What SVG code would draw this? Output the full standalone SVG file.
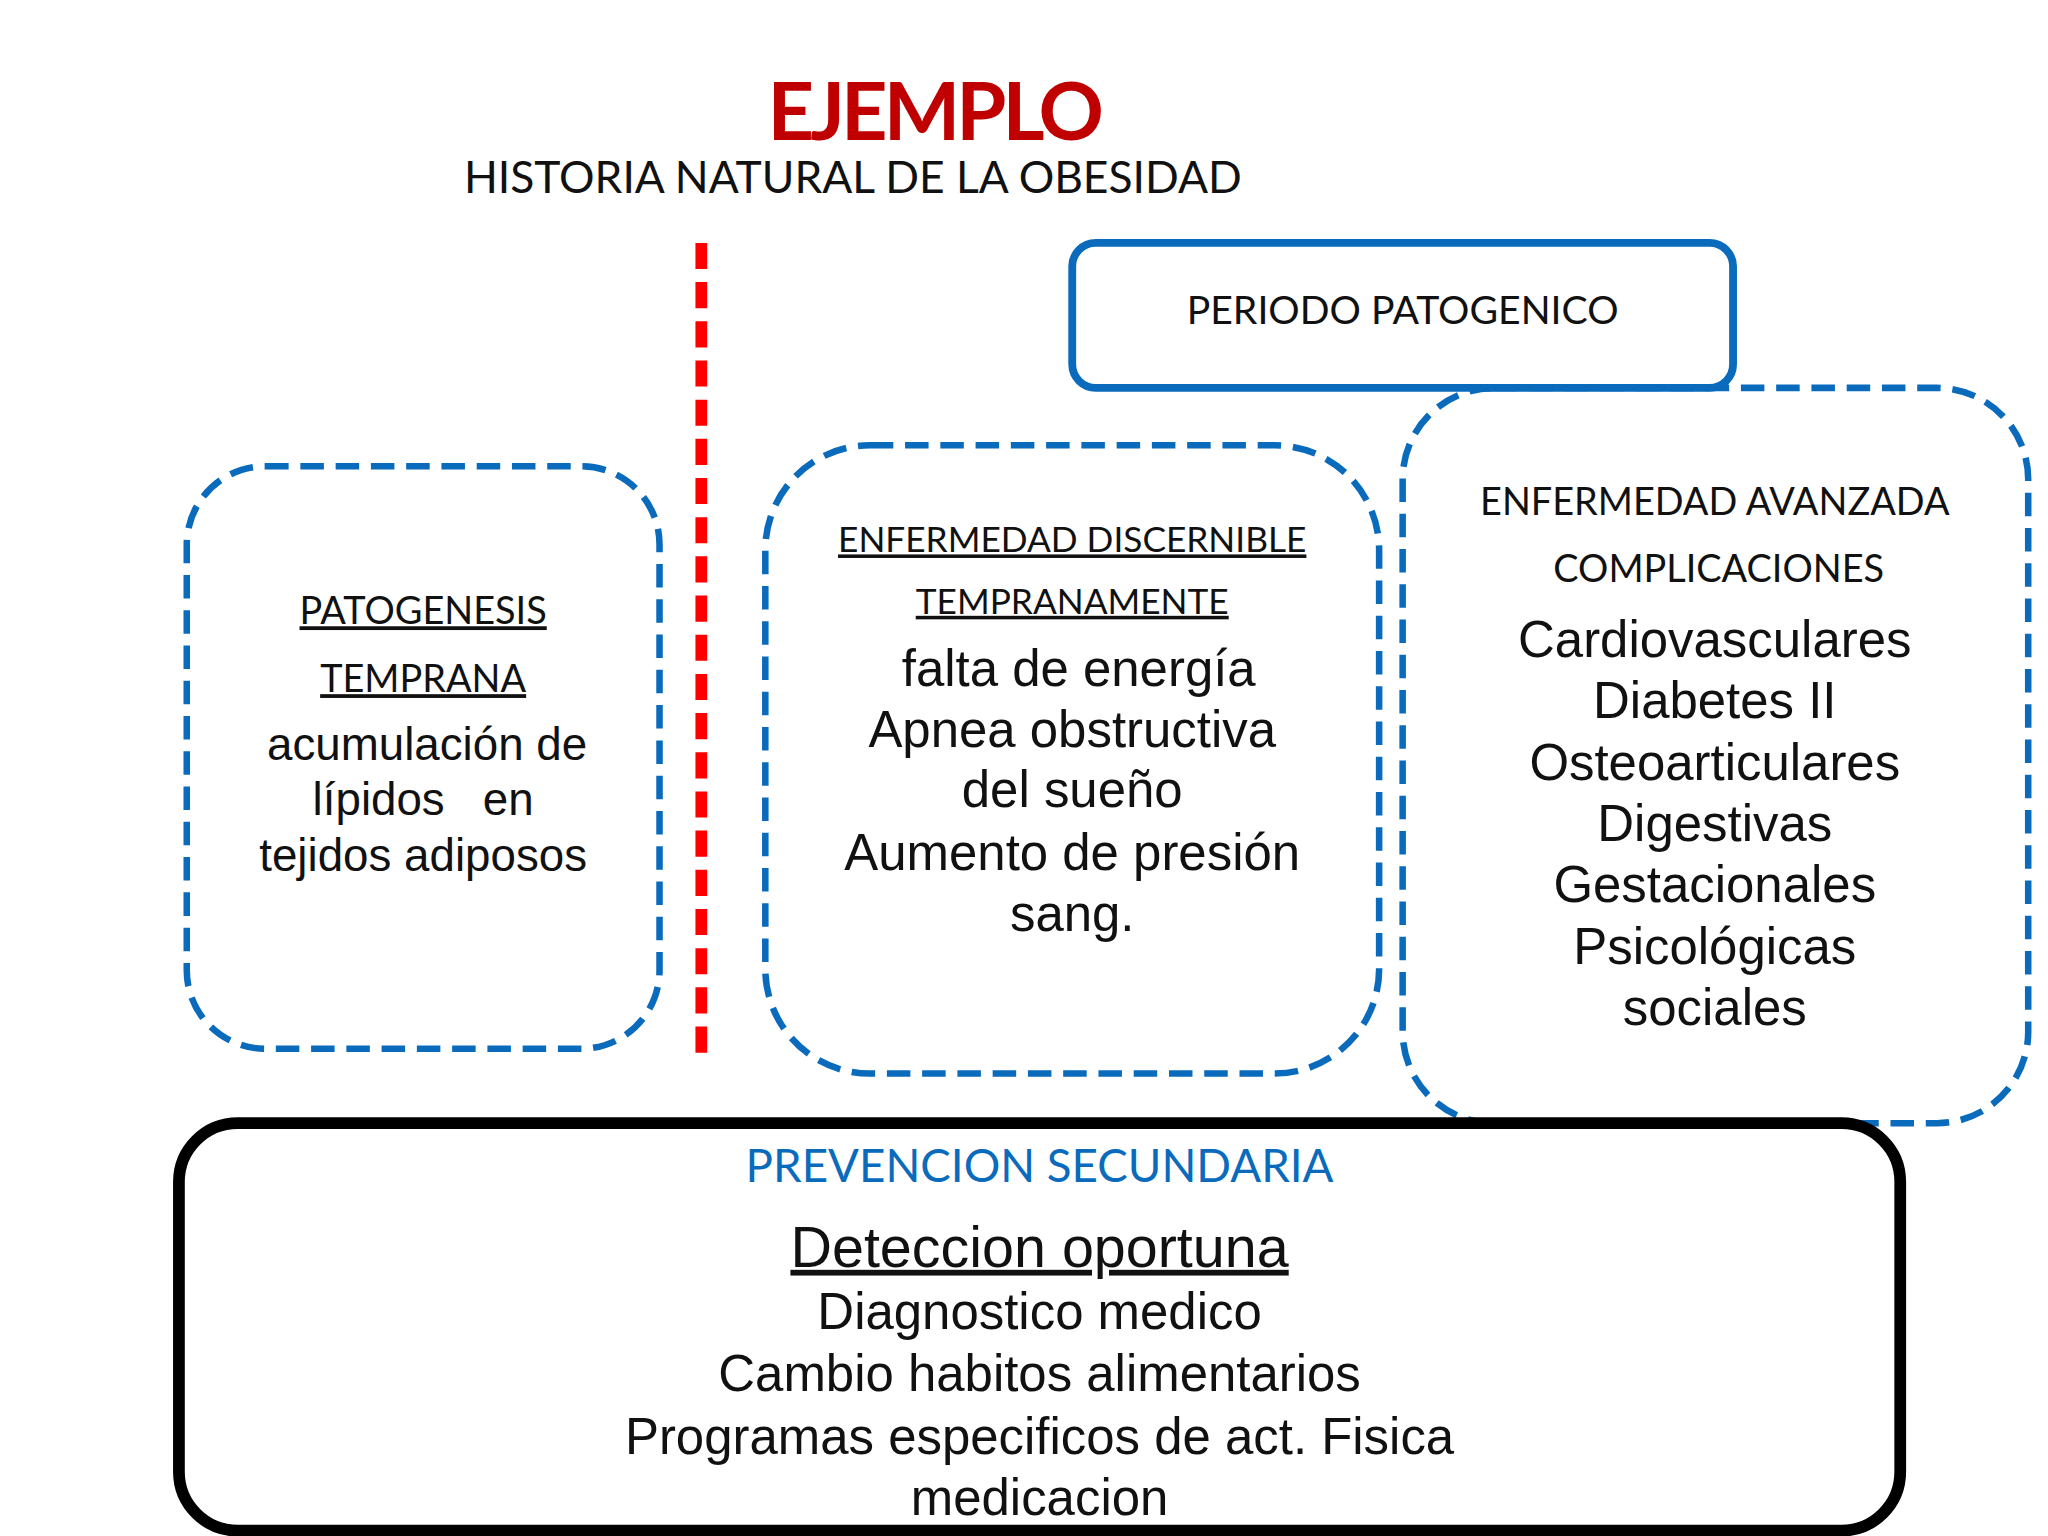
<svg xmlns="http://www.w3.org/2000/svg" width="2048" height="1536" viewBox="0 0 2048 1536">
<style>
.t{font-family:"Lato","Liberation Sans",sans-serif;fill:#111;text-anchor:middle}
.b{font-family:"Liberation Sans","DejaVu Sans",sans-serif;fill:#111;text-anchor:middle;font-size:39px}
.d{fill:none;stroke:#0a6bbd;stroke-width:5;stroke-dasharray:18 9}
</style>
<rect width="2048" height="1536" fill="#fff"/>
<g transform="scale(1.306)">
<g id="title">
<text x="715" y="107" class="t" style="font-size:62px;font-weight:bold;fill:#c00000;letter-spacing:-3px">EJEMPLO</text>
<text x="653" y="148" class="t" style="font-size:34px">HISTORIA NATURAL DE LA OBESIDAD</text>
</g>
<g id="divider"><line x1="537" y1="186" x2="537" y2="810" stroke="#f00" stroke-width="9" stroke-dasharray="20 10"/></g>
<g id="periodo">
<rect x="821" y="186" width="506" height="111" rx="18" fill="none" stroke="#0a6bbd" stroke-width="6"/>
<text x="1074" y="248" class="t" style="font-size:30px">PERIODO PATOGENICO</text>
</g>
<g id="patogenesis">
<rect x="143" y="357" width="362" height="446" rx="60" class="d"/>
<text x="324" y="478" class="t" style="font-size:29px;text-decoration:underline">PATOGENESIS</text>
<text x="324" y="530" class="t" style="font-size:29px;text-decoration:underline">TEMPRANA</text>
<text x="327" y="582" class="b" style="font-size:35px">acumulación de</text>
<text x="324" y="624" class="b" style="font-size:35px" xml:space="preserve">lípidos   en</text>
<text x="324" y="667" class="b" style="font-size:35px">tejidos adiposos</text>
</g>
<g id="discernible">
<rect x="586" y="341" width="470" height="481" rx="80" class="d"/>
<text x="821" y="423" class="t" style="font-size:27px;text-decoration:underline">ENFERMEDAD DISCERNIBLE</text>
<text x="821" y="470" class="t" style="font-size:27px;text-decoration:underline">TEMPRANAMENTE</text>
<text x="826" y="525" class="b">falta de energía</text>
<text x="821" y="572" class="b">Apnea obstructiva</text>
<text x="821" y="618" class="b">del sueño</text>
<text x="821" y="666" class="b">Aumento de presión</text>
<text x="821" y="713" class="b">sang.</text>
</g>
<g id="avanzada">
<rect x="1074" y="297" width="479" height="563" rx="70" class="d"/>
<text x="1313" y="394" class="t" style="font-size:29px">ENFERMEDAD AVANZADA</text>
<text x="1316" y="446" class="t" style="font-size:29px">COMPLICACIONES</text>
<text x="1313" y="503" class="b">Cardiovasculares</text>
<text x="1313" y="550" class="b">Diabetes II</text>
<text x="1313" y="597" class="b">Osteoarticulares</text>
<text x="1313" y="644" class="b">Digestivas</text>
<text x="1313" y="691" class="b">Gestacionales</text>
<text x="1313" y="738" class="b">Psicológicas</text>
<text x="1313" y="785" class="b">sociales</text>
</g>
<g id="prevencion">
<rect x="137" y="860" width="1318" height="312" rx="45" fill="none" stroke="#000" stroke-width="9"/>
<text x="796" y="905" class="t" style="font-size:35px;fill:#0a6bbd">PREVENCION SECUNDARIA</text>
<text x="796" y="970" class="b" style="font-size:44px;text-decoration:underline">Deteccion oportuna</text>
<text x="796" y="1018" class="b">Diagnostico medico</text>
<text x="796" y="1065" class="b">Cambio habitos alimentarios</text>
<text x="796" y="1113" class="b">Programas especificos de act. Fisica</text>
<text x="796" y="1160" class="b">medicacion</text>
</g>
<g id="connectors"></g>
</g>
</svg>
